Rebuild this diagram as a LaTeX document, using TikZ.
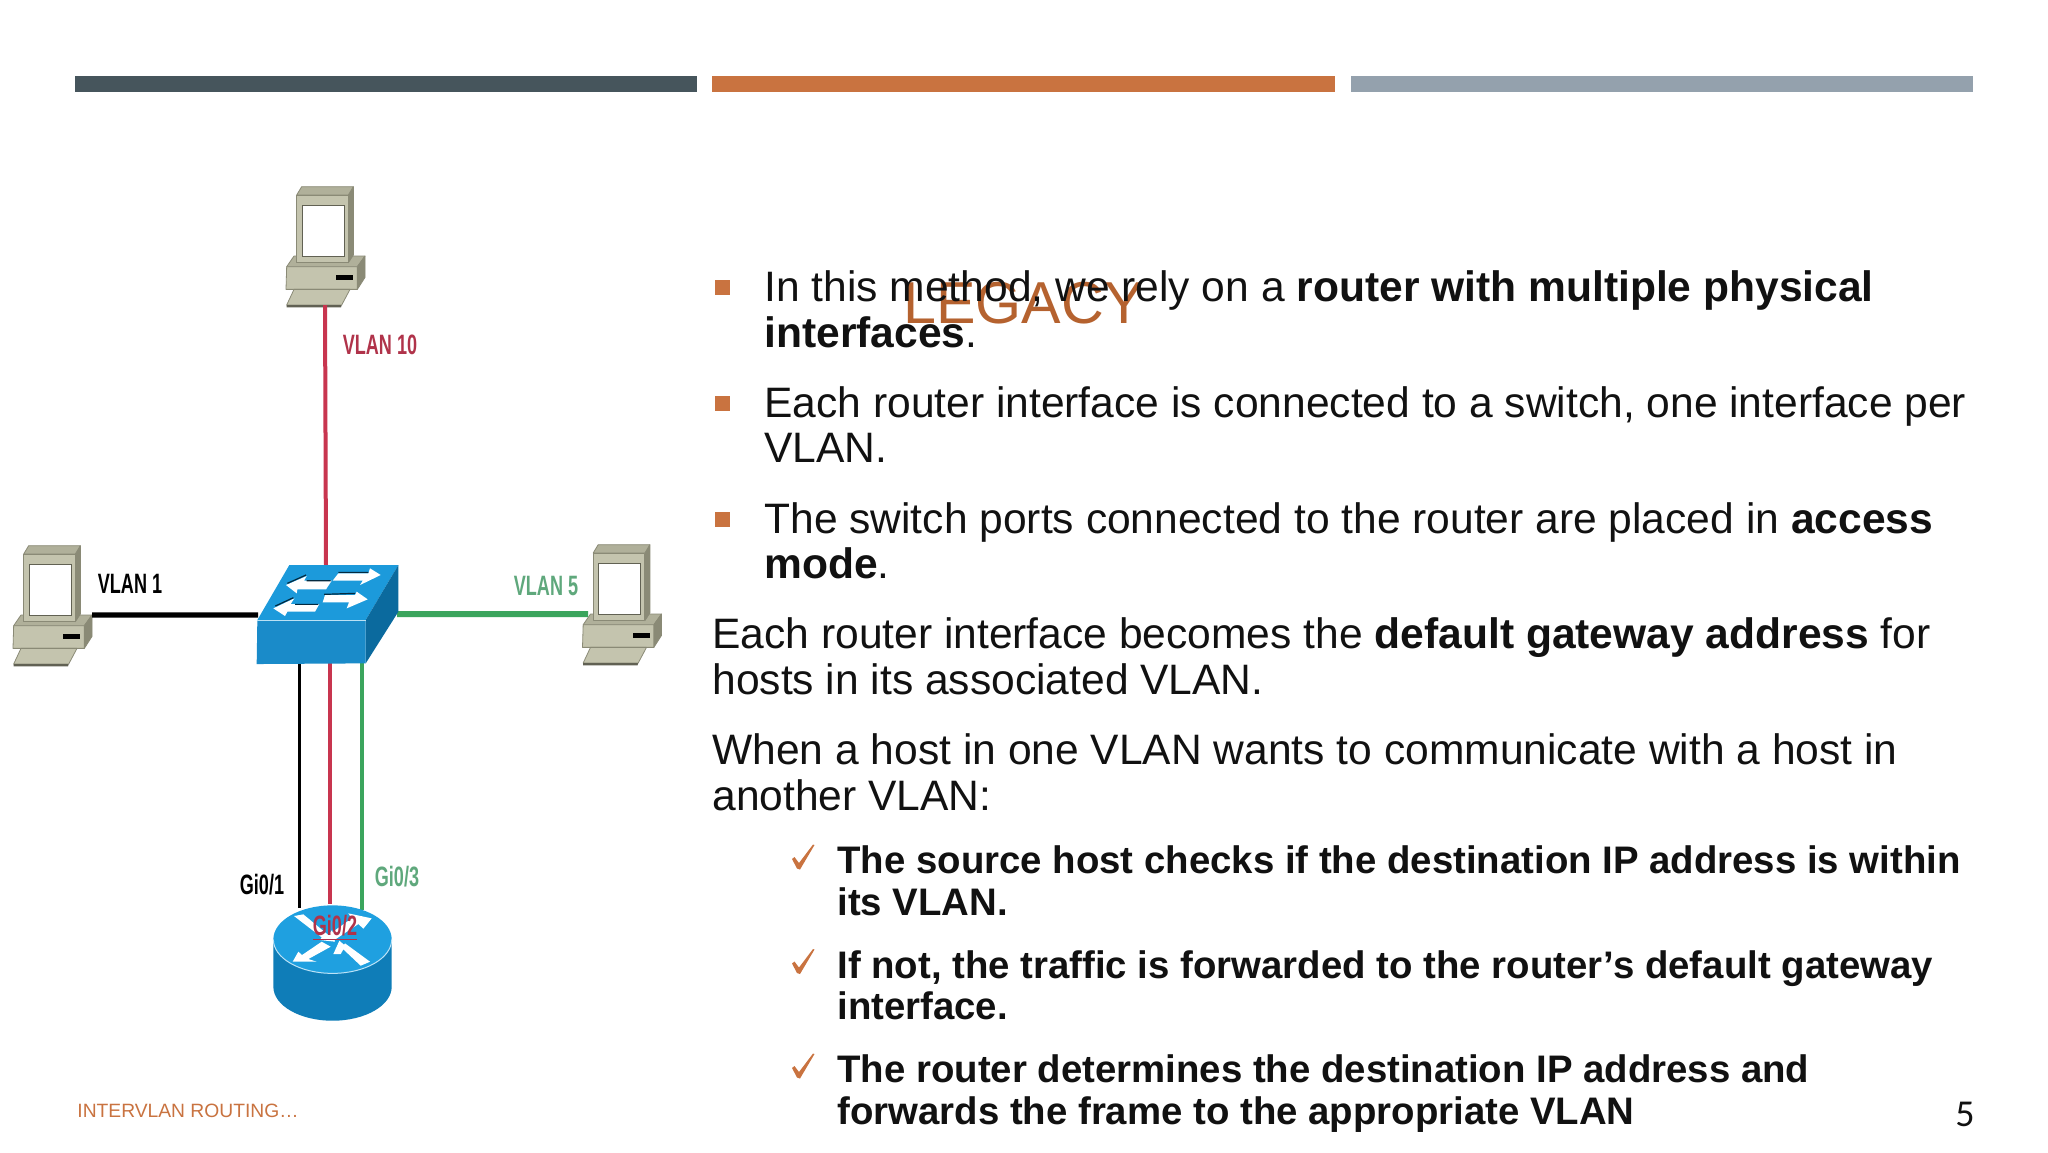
\documentclass[tikz,border=0pt]{standalone}
\usepackage{fontspec}
\setmainfont{Liberation Sans}
\newfontfamily\numfont{Carlito}
\definecolor{barA}{HTML}{46555C}
\definecolor{barB}{HTML}{C97340}
\definecolor{barC}{HTML}{94A1AD}
\definecolor{ink}{HTML}{111111}
\definecolor{legacy}{HTML}{B5622F}
\definecolor{pcA}{HTML}{C4C4AE}
\definecolor{pcB}{HTML}{B0B09A}
\definecolor{pcC}{HTML}{8A8A76}
\definecolor{swTop}{HTML}{1C9ADB}
\definecolor{swFront}{HTML}{1A8BC9}
\definecolor{swSide}{HTML}{0B6A9E}
\definecolor{rtTop}{HTML}{1FA0E0}
\definecolor{rtSide}{HTML}{0F7DB8}
\definecolor{netRed}{HTML}{C8354F}
\definecolor{netGreen}{HTML}{3BA55D}
\definecolor{lblRed}{HTML}{B0334A}
\definecolor{lblGreen}{HTML}{5FA87C}
\tikzset{
  bar/.style={fill=#1,draw=none},
  body/.style={anchor=base west,inner sep=0pt,font=\fontsize{21.28}{24}\selectfont,text=ink},
  sub/.style={anchor=base west,inner sep=0pt,font=\fontsize{19.18}{21}\selectfont\bfseries,text=ink},
  netlabel/.style={inner sep=0pt,font=\fontsize{14}{16}\selectfont\bfseries,xscale=.645,transform shape},
  sq/.style={fill=barB,draw=none},
  pc edge/.style={draw=pcC,line width=.4pt,line join=round},
  pics/pc/.style={code={
    \begin{scope}[x=.1667pt,y=-.1667pt]
      \coordinate (-s) at (165,405);
      \coordinate (-e) at (285,258);
      \coordinate (-w) at (65,258);
      \filldraw[pc edge,fill=pcB] (50,290)--(72,258)--(285,258)--(262,290)--cycle;
      \filldraw[pc edge,fill=pcC] (262,290)--(285,258)--(285,322)--(262,358)--cycle;
      \filldraw[pc edge,fill=pcA] (50,290)--(262,290)--(262,358)--(48,358)--cycle;
      \filldraw[pc edge,fill=pcA] (72,358)--(240,358)--(215,405)--(50,405)--cycle;
      \fill[pcC!70!black] (50,405)--(215,405)--(213,412)--(50,412)--cycle;
      \fill[black] (198,315) rectangle (250,330);
      \filldraw[pc edge,fill=pcC] (235,75)--(250,50)--(250,255)--(235,278)--cycle;
      \filldraw[pc edge,fill=pcB] (80,75)--(95,50)--(250,50)--(235,75)--cycle;
      \filldraw[pc edge,fill=pcA] (80,75) rectangle (235,278);
      \filldraw[draw=pcC!70!black,line width=.5pt,fill=white] (97,107) rectangle (222,260);
    \end{scope}
  }},
  pics/tick/.style={code={
    \fill[barB] (-11,1) -- (-8.5,-1) -- (-4,5) -- (10,-13.5) -- (11.5,-13) -- (-3,11.5) -- (-6,10.5) -- cycle;
  }},
}
\begin{document}
\begin{tikzpicture}[x=.5pt,y=-.5pt]
\useasboundingbox (0,0) rectangle (2048,1152);
\fill[white] (0,0) rectangle (2048,1152);
% top bars
\fill[bar=barA] (75,76) rectangle (697,92);
\fill[bar=barB] (712,76) rectangle (1335,92);
\fill[bar=barC] (1351,76) rectangle (1973,92);

% devices: anchors first, links below the device art
\coordinate (swN) at (326,566);
\coordinate (swW) at (258,615);
\coordinate (swE) at (397,614);
\coordinate (swS1) at (299,662);
\coordinate (swS2) at (330,662);
\coordinate (swS3) at (362,662);
\coordinate (rtA) at (299,908);
\coordinate (rtB) at (330,904);
\coordinate (rtC) at (362,910);

\pic (pcTop) at (270,170) {pc};
\pic (pcLeft) at (-3,529) {pc};
\pic (pcRight) at (566.5,528) {pc};

\draw[netRed,line width=2pt] (pcTop-s) -- (swN);
\draw[black,line width=2.7pt] (pcLeft-e) -- (swW);
\draw[netGreen,line width=3pt] (swE) -- (pcRight-w);
\draw[black,line width=1.5pt] (swS1) -- (rtA);
\draw[netRed,line width=2pt] (swS2) -- (rtB);
\draw[netGreen,line width=1.8pt] (swS3) -- (rtC);

% switch
\begin{scope}[shift={(200,540)},x=.1667pt,y=-.1667pt]
  \fill[swTop] (172,240)--(268,75)--(595,75)--(497,240)--cycle;
  \fill[swSide] (497,240)--(595,75)--(595,215)--(497,370)--cycle;
  \fill[swFront] (172,240)--(497,240)--(497,370)--(170,372)--cycle;
  \draw[white!70!swTop,line width=.5pt] (172,240)--(497,240);
  \fill[white] (415,100)--(505,100)--(510,85)--(542,105)--(480,135)--(488,122)--(398,122)--cycle;
  \fill[white] (258,135)--(320,108)--(312,122)--(395,122)--(378,148)--(292,148)--(290,160)--cycle;
  \fill[white] (375,165)--(465,165)--(470,155)--(503,178)--(440,205)--(447,187)--(368,187)--cycle;
  \fill[white] (220,205)--(283,175)--(272,192)--(358,192)--(345,215)--(262,215)--(255,228)--cycle;
  \draw[swSide!40!black,line width=.6pt] (415,97)--(505,97) (320,122)--(392,122) (262,130)--(318,105) (372,163)--(465,160) (285,193)--(355,193) (226,198)--(280,173);
\end{scope}

% router
\begin{scope}[shift={(220,850)},x=.1667pt,y=-.1667pt]
  \fill[rtSide] (160,268) -- (160,410) arc[start angle=180,end angle=0,x radius=177.5,y radius=102] -- (515,268) -- cycle;
  \fill[rtTop] (337.5,268) ellipse[x radius=177.5,y radius=102];
  \draw[white!70!rtTop,line width=.5pt] (160,268) arc[start angle=180,end angle=0,x radius=177.5,y radius=102];
  \fill[white] (222,198)--(250,193)--(325,255)--(336,240)--(345,275)--(300,270)--(305,262)--cycle;
  \fill[white] (385,190)--(455,205)--(430,236)--(415,222)--(340,272)--(315,262)--(395,205)--cycle;
  \fill[white] (218,335)--(235,305)--(246,315)--(305,275)--(332,290)--(265,327)--(290,335)--cycle;
  \fill[white] (340,312)--(358,272)--(372,284)--(375,280)--(450,335)--(422,347)--(370,298)--(362,312)--cycle;
\end{scope}

% device labels
\node[netlabel,text=lblRed] (vlanTen) at (380,345) {VLAN 10};
\node[netlabel,text=black] (vlanOne) at (130,584) {VLAN 1};
\node[netlabel,text=lblGreen] (vlanFive) at (546,586) {VLAN 5};
\node[netlabel,text=black] (giOne) at (262,885) {Gi0/1};
\node[netlabel,text=lblGreen] (giThree) at (397,877) {Gi0/3};
\node[netlabel,text=lblRed] (giTwo) at (335,928) {\underline{Gi0/2}};

% title
\node[anchor=base west,inner sep=0pt,text=legacy,font=\fontsize{29.6}{33}\selectfont] (title) at (903,323) {LEGACY};

% bullets
\fill[sq] (715,280) rectangle (730,295);
\fill[sq] (715,396) rectangle (730,411);
\fill[sq] (715,512) rectangle (730,527);
\node[body] (t1) at (764,301.5) {In this method, we rely on a \textbf{router with multiple physical}};
\node[body] (t2) at (764,347.2) {\textbf{interfaces}.};
\node[body] (t3) at (764,417) {Each router interface is connected to a switch, one interface per};
\node[body] (t4) at (764,462.7) {VLAN.};
\node[body] (t5) at (764,533) {The switch ports connected to the router are placed in \textbf{access}};
\node[body] (t6) at (764,578.7) {\textbf{mode}.};
\node[body] (t7) at (712,648.7) {Each router interface becomes the \textbf{default gateway address} for};
\node[body] (t8) at (712,694.4) {hosts in its associated VLAN.};
\node[body] (t9) at (712,764.7) {When a host in one VLAN wants to communicate with a host in};
\node[body] (t10) at (712,810.4) {another VLAN:};

\pic at (803,858) {tick};
\pic at (803,962.5) {tick};
\pic at (803,1067) {tick};
\node[sub] (s1) at (837,873.5) {The source host checks if the destination IP address is within};
\node[sub] (s2) at (837,915.5) {its VLAN.};
\node[sub] (s3) at (837,978) {If not, the traffic is forwarded to the router’s default gateway};
\node[sub] (s4) at (837,1019.5) {interface.};
\node[sub] (s5) at (837,1082.5) {The router determines the destination IP address and};
\node[sub] (s6) at (837,1124) {forwards the frame to the appropriate VLAN};

% footer
\node[anchor=base west,inner sep=0pt,text=barB,font=\fontsize{9.63}{12}\selectfont] (foot) at (77,1117) {INTERVLAN ROUTING…};
\node[anchor=base east,inner sep=0pt,text=ink,font=\fontsize{19}{21}\selectfont\numfont] (page) at (1975,1126) {5};
\end{tikzpicture}
\end{document}
